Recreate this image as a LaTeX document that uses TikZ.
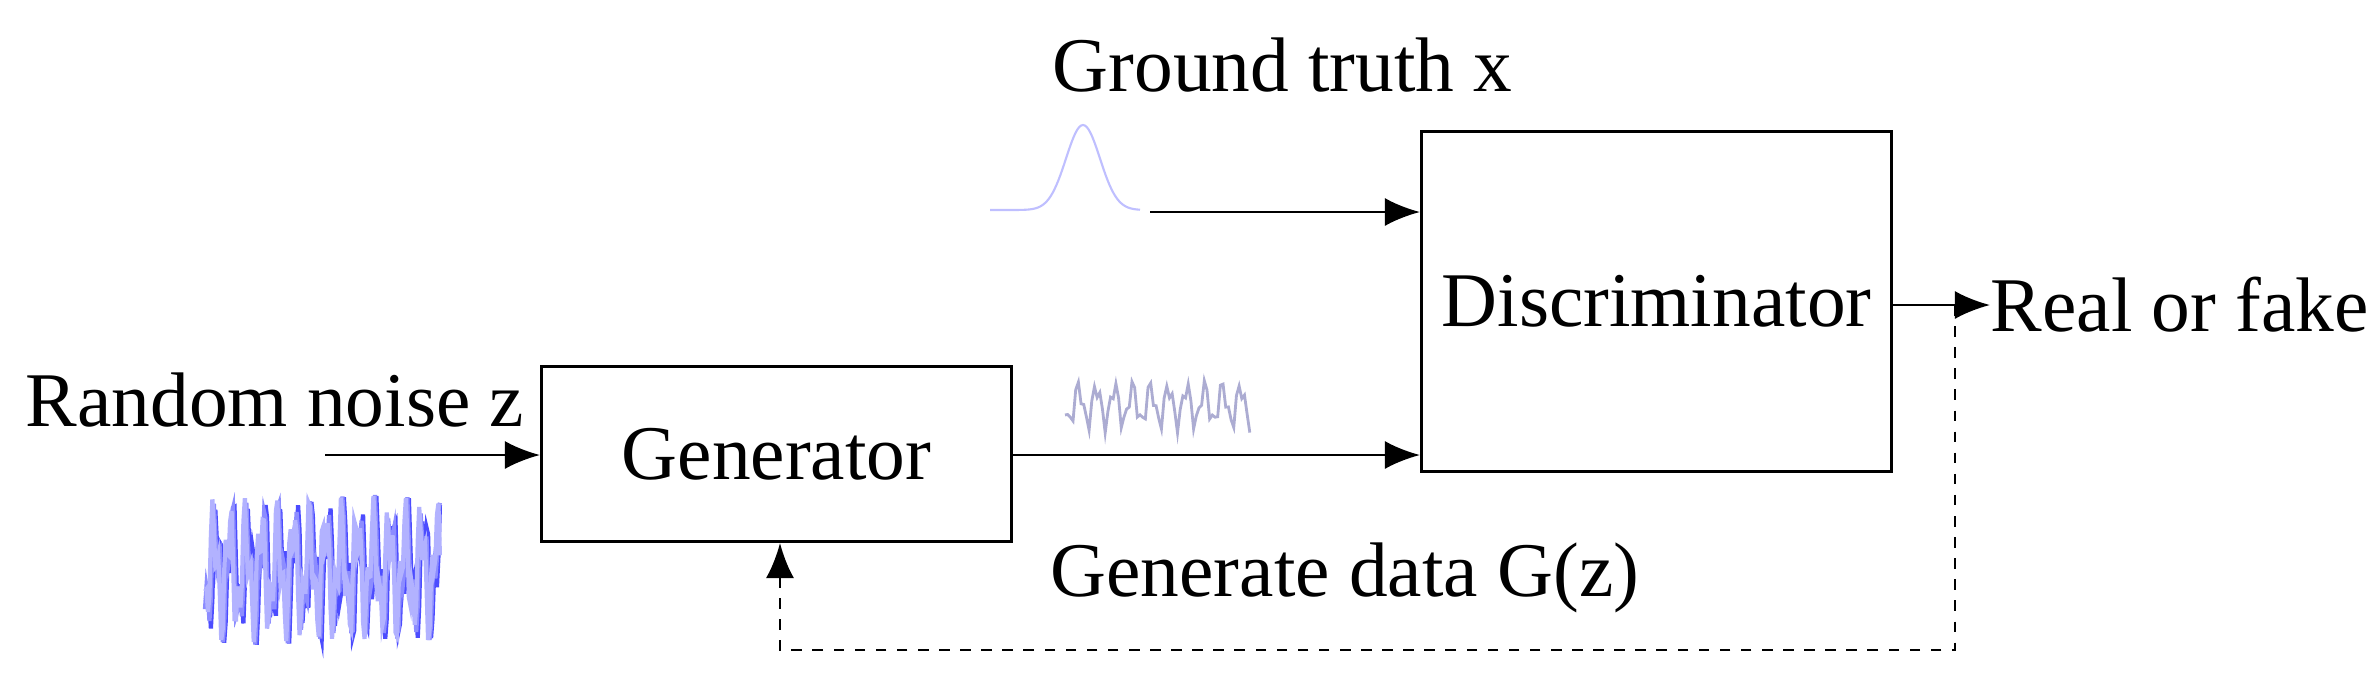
\documentclass[tikz,border=0pt]{standalone}
\usepackage{fontspec}
\setmainfont{Liberation Serif}
\usetikzlibrary{arrows.meta}
\begin{document}
\begin{tikzpicture}[x=0.01cm,y=-0.01cm,
  box/.style={draw,thick,minimum width=4.7cm,inner sep=0pt},
  lbl/.style={font=\fontsize{22}{26}\selectfont,inner sep=0pt},
  arr/.style={thick,-{Latex[length=10pt,width=8pt]}}]
\useasboundingbox (0,0) rectangle (2374,696);
\node[box,minimum height=1.75cm,anchor=north west,lbl] (gen) at (540,365) {Generator};
\node[box,minimum height=3.4cm,anchor=north west,lbl] (dis) at (1420,130) {Discriminator};
\node[lbl,anchor=west] (rn) at (25,400) {Random noise z};
\node[lbl,anchor=west] (gt) at (1052,65) {Ground truth x};
\node[lbl,anchor=west] (gd) at (1050,578) {Generate data G(z)};
\node[lbl,anchor=west] (rf) at (1990,305) {Real or fake};
\coordinate (n0) at (325,455);
\coordinate (g0) at (1150,212);
\coordinate (o1) at (1955,305);
\coordinate (d1) at (1955,650);
\coordinate (d2) at (780,650);
\draw[arr] (n0) -- (n0 -| gen.west);
\draw[arr] (gen.east |- 0,455) -- (dis.west |- 0,455);
\draw[arr] (g0) -- (dis.west |- g0);
\draw[arr] (dis.east |- o1) -- (rf.west);
\draw[thick,dashed,-{Latex[length=10pt,width=8pt]}] (o1) -- (d1) -- (d2) -- (d2 |- gen.south);
% gaussian
\draw[blue!25,semithick,domain=990:1140,samples=80] plot (\x,{210-85*exp(-((\x-1083)/24)^2)});
% small noise
\draw[blue!30!gray!50,thick,domain=0:1,samples=70] plot ({1065+185*\x},{405+18*sin(3700*\x)+10*cos(8300*\x)});
% big noise
\foreach \k/\c in {0/blue!70,1/blue!45,2/blue!30}
  \draw[\c,line width=1.2pt,domain=0:1,samples=160] plot ({205+235*\x},{570+45*sin(5300*\x+40*\k)+30*cos(13100*\x+70*\k)});
\end{tikzpicture}
\end{document}
